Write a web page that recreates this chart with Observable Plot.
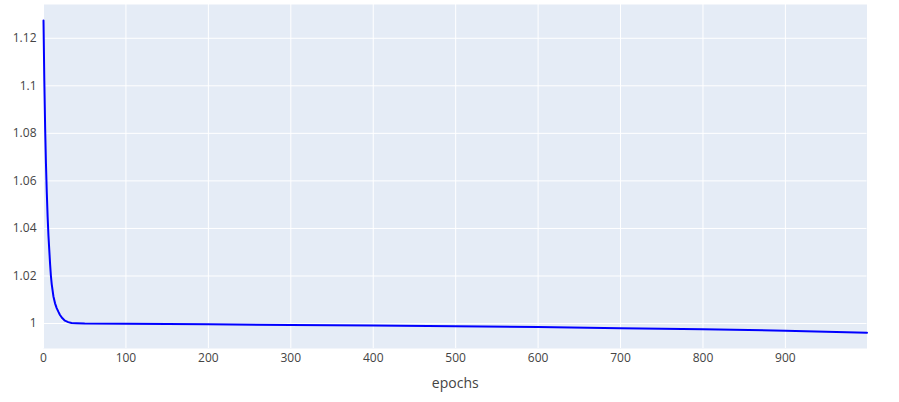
<!DOCTYPE html>
<html>
<head>
<meta charset="utf-8">
<script src="https://cdn.jsdelivr.net/npm/d3@7"></script>
<script src="https://cdn.jsdelivr.net/npm/@observablehq/plot@0.6"></script>
<style>
  html, body { margin: 0; padding: 0; background: #fff; }
  #chart { width: 899px; height: 402px; }
</style>
</head>
<body>
<div id="chart"></div>
<script>
const epochs = [0,1,2,3,4,5,6,7,8,9,10,12,14,16,18,20,23,26,30,34,40,50,100,200,300,400,500,600,700,800,900,999];
const loss = [1.1275,1.102,1.082,1.067,1.055,1.045,1.037,1.031,1.025,1.020,1.0165,1.0115,1.0085,1.0065,1.0050,1.0036,1.0022,1.0012,1.0006,1.0002,1.0001,1.0000,0.99995,0.9997,0.9994,0.9992,0.9989,0.9985,0.9980,0.9976,0.9970,0.9961];
const xTicks = [0,100,200,300,400,500,600,700,800,900];
const yTicks = [1,1.02,1.04,1.06,1.08,1.1,1.12];
const xTitle = "epochs";

const data = epochs.map((e, i) => ({epoch: e, loss: loss[i]}));

const chart = Plot.plot({
  width: 899,
  height: 402,
  marginLeft: 43,
  marginRight: 32.5,
  marginTop: 4,
  marginBottom: 54,
  style: {fontFamily: "'Open Sans', sans-serif", color: "#444", background: "#fff"},
  x: {domain: [0, 999]},
  y: {domain: [0.9895, 1.1342]},
  marks: [
    Plot.frame({fill: "#E5ECF6", stroke: "none"}),
    Plot.gridX(xTicks, {stroke: "#fff", strokeOpacity: 1, strokeWidth: 1}),
    Plot.gridY(yTicks, {stroke: "#fff", strokeOpacity: 1, strokeWidth: 1}),
    Plot.axisX(xTicks, {tickSize: 0, tickPadding: 5, fontSize: 12, fill: "#444", label: null}),
    Plot.axisY(yTicks, {tickSize: 0, tickPadding: 7, fontSize: 12, fill: "#444", label: null,
      tickFormat: d => String(+d.toFixed(2))}),
    Plot.line(data, {x: "epoch", y: "loss", stroke: "#0000ff", strokeWidth: 2}),
    Plot.text([xTitle], {frameAnchor: "bottom", dy: 35, lineAnchor: "middle", fontSize: 14, fill: "#444"})
  ]
});
document.getElementById("chart").appendChild(chart);
</script>
</body>
</html>
